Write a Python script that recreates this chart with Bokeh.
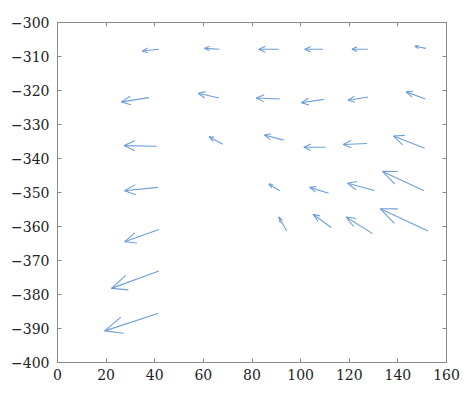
import numpy as np
from bokeh.plotting import figure
from bokeh.models import Range1d, FixedTicker, LinearAxis
from bokeh.embed import file_html
from bokeh.resources import INLINE

# Quiver data: tail positions (x, y) and vector components (u, v)
x = [41.7, 66.6, 91.0, 109.2, 127.6, 151.5,
     37.6, 66.4, 91.4, 109.5, 127.7, 151.3,
     40.8, 68.0, 93.0, 110.2, 127.3, 151.0,
     41.3, 91.4, 111.5, 130.4, 150.8,
     41.7, 94.3, 112.6, 129.6, 152.4,
     41.7,
     41.3]
y = [-307.85, -307.85, -307.85, -307.85, -307.85, -307.6,
     -322.1, -322.2, -322.5, -322.6, -321.9, -322.5,
     -336.4, -335.8, -334.6, -336.7, -335.6, -337.0,
     -348.5, -349.5, -350.2, -349.4, -349.5,
     -360.9, -361.3, -360.3, -362.1, -361.3,
     -373.1,
     -385.6]
u = [-6.8, -6.1, -8.2, -7.5, -6.5, -4.5,
     -11.3, -8.5, -9.6, -9.2, -8.2, -7.9,
     -13.4, -5.7, -7.9, -8.9, -9.8, -12.8,
     -13.7, -4.5, -7.8, -11.1, -17.1,
     -14.1, -3.3, -7.5, -10.9, -19.6,
     -19.5,
     -21.9]
v = [-0.55, 0.25, 0.0, 0.0, 0.0, 0.6,
     -1.25, 1.4, 0.3, -1.0, -0.95, 2.1,
     0.2, 2.2, 1.5, 0.0, -0.3, 3.6,
     -1.0, 2.0, 1.7, 2.1, 5.7,
     -3.6, 4.1, 3.9, 4.9, 6.5,
     -5.1,
     -5.1]

x_ticks = [0, 20, 40, 60, 80, 100, 120, 140, 160]
x_labels = ["0", "20", "40", "60", "80", "100", "120", "140", "160"]
y_ticks = [-400, -390, -380, -370, -360, -350, -340, -330, -320, -310, -300]
y_labels = ["\u2212400", "\u2212390", "\u2212380", "\u2212370", "\u2212360", "\u2212350",
            "\u2212340", "\u2212330", "\u2212320", "\u2212310", "\u2212300"]

X = np.array(x); Y = np.array(y); U = np.array(u); V = np.array(v)
alpha, beta = 0.33, 0.33
tx, ty = X + U, Y + V
b1x = tx - alpha * (U + beta * V); b1y = ty - alpha * (V - beta * U)
b2x = tx - alpha * (U - beta * V); b2y = ty - alpha * (V + beta * U)

AX = "#8a8a8a"
ARROW = "#6e9dd8"
FONT = "DejaVu Serif"

p = figure(width=474, height=398, output_backend="svg", toolbar_location=None,
           x_range=Range1d(0, 160), y_range=Range1d(-400, -300),
           min_border_left=57, min_border_right=28, min_border_top=22, min_border_bottom=36)
p.background_fill_color = "white"
p.border_fill_color = "white"
p.outline_line_color = AX
p.xgrid.visible = False
p.ygrid.visible = False

p.segment(X, Y, tx, ty, line_color=ARROW, line_width=1.1)
p.segment(tx, ty, b1x, b1y, line_color=ARROW, line_width=1.1)
p.segment(tx, ty, b2x, b2y, line_color=ARROW, line_width=1.1)

xa = p.xaxis[0]
xa.ticker = FixedTicker(ticks=x_ticks)
xa.major_label_overrides = dict(zip(x_ticks, x_labels))
xa.major_label_standoff = 6

ya = p.yaxis[0]
ya.ticker = FixedTicker(ticks=y_ticks)
ya.major_label_overrides = dict(zip(y_ticks, y_labels))
ya.major_label_standoff = 8

for ax in (xa, ya):
    ax.axis_line_color = AX
    ax.major_tick_line_color = AX
    ax.minor_tick_line_color = None
    ax.major_tick_in = 4
    ax.major_tick_out = 0
    ax.major_label_text_font = FONT
    ax.major_label_text_font_size = "14px"
    ax.major_label_text_color = "#222222"

# mirrored tick marks on top and right, without labels
top = LinearAxis(ticker=FixedTicker(ticks=x_ticks))
right = LinearAxis(ticker=FixedTicker(ticks=y_ticks))
for ax, ticks in ((top, x_ticks), (right, y_ticks)):
    ax.axis_line_color = AX
    ax.major_tick_line_color = AX
    ax.minor_tick_line_color = None
    ax.major_tick_in = 4
    ax.major_tick_out = 0
    ax.major_label_text_font_size = "0px"
    ax.major_label_overrides = {t: "" for t in ticks}
p.add_layout(top, "above")
p.add_layout(right, "right")

open("out.html", "w").write(file_html(p, INLINE))
